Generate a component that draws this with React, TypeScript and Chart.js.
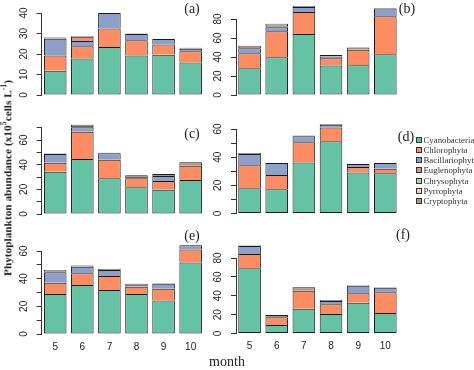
import React, { useEffect, useRef } from 'react';
import { Chart, registerables } from 'chart.js';
Chart.register(...registerables);

const months = ['5', '6', '7', '8', '9', '10'];
const groups = ['Cyanobacteria', 'Chlorophyta', 'Bacillariophyta', 'Euglenophyta', 'Chrysophyta', 'Pyrrophyta', 'Cryptophyta'];
const colors = ['#66c2a5', '#fc8d62', '#8da0cb', '#e9907e', '#b3d98c', '#f3d7b5', '#a89a8a'];

// rows follow `groups`; columns follow `months`
const panelA = [
  [11.8, 17.8, 23.4, 19.3, 19.6, 15.8],
  [7.5, 6.0, 9.1, 7.4, 5.0, 5.6],
  [8.2, 2.6, 7.5, 3.0, 2.7, 1.2],
  [0, 2.0, 0, 0, 0, 0],
  [0, 0, 0, 0, 0, 0],
  [0, 0, 0, 0, 0, 0],
  [0.6, 0.4, 0, 0.3, 0.2, 0.4],
];
const panelB = [
  [28.2, 39.8, 64.1, 31.0, 31.4, 43.0],
  [15.8, 27.2, 23.3, 7.8, 16.2, 39.8],
  [5.3, 4.2, 5.3, 1.5, 0, 8.2],
  [1.2, 1.3, 0, 0, 0, 0],
  [0, 1.2, 0, 0, 0, 0],
  [0, 0, 0, 0, 0, 0],
  [1.3, 1.3, 1.0, 1.7, 2.4, 0.6],
];
const panelC = [
  [34.3, 44.6, 28.9, 21.6, 19.7, 27.6],
  [7.3, 22.2, 15.1, 7.3, 7.1, 11.6],
  [7.0, 3.5, 5.2, 0, 4.0, 0],
  [0, 1.0, 0, 1.2, 0, 0],
  [0, 0, 0, 0, 0, 0],
  [0, 0, 0, 0, 0, 0],
  [0.5, 1.1, 0.4, 1.3, 1.6, 2.7],
];
const panelD = [
  [18.0, 17.3, 36.3, 51.3, 29.2, 28.5],
  [16.2, 10.0, 14.3, 9.8, 3.8, 3.2],
  [8.1, 8.5, 4.3, 1.9, 2.1, 4.1],
  [0, 0, 0, 0, 0, 0],
  [0, 0, 0, 0, 0, 0],
  [0, 0, 0, 0, 0, 0],
  [0.7, 0.3, 0.5, 0.5, 0.3, 0.3],
];
const panelE = [
  [28.9, 35.4, 31.8, 28.9, 24.3, 51.6],
  [8.2, 8.5, 10.1, 5.3, 8.5, 9.4],
  [7.5, 4.8, 4.4, 1.0, 3.6, 3.1],
  [0.8, 0, 0, 0, 0, 0],
  [0, 0, 0, 0, 0, 0],
  [0, 0, 0, 0, 0, 0],
  [0.9, 0.9, 0.7, 1.2, 0.3, 0.3],
];
const panelF = [
  [69.1, 9.0, 26.3, 20.7, 32.7, 21.7],
  [15.2, 8.1, 19.1, 10.2, 9.9, 21.9],
  [8.5, 0, 0, 3.6, 8.1, 5.0],
  [0, 0, 0, 0, 0, 0],
  [0, 0, 0, 0, 0, 0],
  [0, 0, 0, 0, 0, 0],
  [0.5, 2.5, 3.5, 1.0, 0.5, 0.4],
];

const yTitle = 'Phytoplankton abundance (x10';
const xTitle = 'month';

type Panel = {
  tag: string; rows: number[][]; left: number; right: number; top: number; bottom: number;
  max: number; step: number; labelEvery: number; showX: boolean; tagX: number; tagY: number;
};

const W = 474;
const H = 370;
const YW = 30;

const panels: Panel[] = [
  { tag: '(a)', rows: panelA, left: 41.7, right: 204.2, top: 7, bottom: 95, max: 40, step: 10, labelEvery: 10, showX: false, tagX: 192, tagY: 9 },
  { tag: '(b)', rows: panelB, left: 236, right: 398.9, top: 19, bottom: 95, max: 80, step: 20, labelEvery: 20, showX: false, tagX: 407, tagY: 8.5 },
  { tag: '(c)', rows: panelC, left: 41.7, right: 204.2, top: 127.7, bottom: 214, max: 70, step: 10, labelEvery: 20, showX: false, tagX: 192, tagY: 133.5 },
  { tag: '(d)', rows: panelD, left: 236, right: 398.9, top: 129, bottom: 213.5, max: 60, step: 10, labelEvery: 20, showX: false, tagX: 406, tagY: 137 },
  { tag: '(e)', rows: panelE, left: 41.7, right: 204.2, top: 251, bottom: 334, max: 60, step: 10, labelEvery: 20, showX: true, tagX: 192, tagY: 236 },
  { tag: '(f)', rows: panelF, left: 236, right: 398.9, top: 258, bottom: 333.5, max: 80, step: 20, labelEvery: 20, showX: true, tagX: 403, tagY: 235 },
];

const tickFont = { family: "'Liberation Sans Narrow', 'Liberation Sans', Arial, sans-serif", size: 10 };

function PanelChart({ p }: { p: Panel }) {
  const ref = useRef<HTMLCanvasElement | null>(null);
  useEffect(() => {
    if (!ref.current) return;
    const XH = p.showX ? 20 : 0;
    const chart = new Chart(ref.current, {
      type: 'bar',
      data: {
        labels: months,
        datasets: groups.map((g, k) => ({
          label: g,
          data: p.rows[k],
          backgroundColor: colors[k],
          borderColor: '#1a1a1a',
          borderWidth: 1,
          borderSkipped: k === 0 ? false : 'start',
          barPercentage: 1 / 1.2,
          categoryPercentage: 1,
          clip: false,
        })) as any,
      },
      options: {
        animation: false,
        responsive: false,
        devicePixelRatio: 1,
        events: [],
        layout: {
          padding: { left: p.left - YW, right: W - p.right, top: p.top, bottom: H - p.bottom - XH },
        },
        plugins: { legend: { display: false }, tooltip: { enabled: false } },
        scales: {
          x: {
            type: 'category',
            stacked: true,
            grid: { display: false, drawTicks: false },
            border: { display: false },
            ticks: { display: p.showX, padding: 7, font: tickFont, color: '#222', maxRotation: 0, minRotation: 0, autoSkip: false },
            afterFit: (s: any) => { s.height = XH; },
          },
          y: {
            type: 'linear',
            stacked: true,
            min: 0,
            max: p.max,
            grid: { display: true, drawOnChartArea: false, drawTicks: true, tickLength: 5, color: '#333' },
            border: { display: true, color: '#333', width: 1 },
            ticks: {
              stepSize: p.step,
              autoSkip: false,
              minRotation: 90,
              maxRotation: 90,
              crossAlign: 'center',
              padding: 7,
              font: tickFont,
              color: '#222',
              callback: (v: any) => (Number(v) % p.labelEvery === 0 ? String(v) : ''),
            },
            afterFit: (s: any) => { s.width = YW; },
          },
        },
      } as any,
    });
    return () => chart.destroy();
  }, [p]);
  return (
    <canvas ref={ref} width={W} height={H} style={{ position: 'absolute', left: 0, top: 0, width: W, height: H }} />
  );
}

const serif = "'Liberation Serif', 'Times New Roman', serif";
const supStyle = { fontSize: '70%', verticalAlign: 'super', lineHeight: 0 } as const;

export default function App() {
  return (
    <div style={{ position: 'fixed', left: 0, top: 0, width: W, height: H, background: '#fff', overflow: 'hidden' }}>
      {panels.map((p) => (
        <PanelChart key={p.tag} p={p} />
      ))}
      {panels.map((p) => (
        <div key={'t' + p.tag} style={{ position: 'absolute', left: p.tagX, top: p.tagY, transform: 'translate(-50%,-50%)', font: `14px ${serif}`, lineHeight: 1, color: '#222', whiteSpace: 'nowrap' }}>{p.tag}</div>
      ))}
      <div style={{ position: 'absolute', left: 8, top: 178, transform: 'translate(-50%,-50%) rotate(-90deg)', font: `bold 11.3px ${serif}`, lineHeight: 1, color: '#222', whiteSpace: 'nowrap' }}>
        {yTitle}<sup style={supStyle}>5</sup>cells L<sup style={supStyle}>-1</sup>)
      </div>
      <div style={{ position: 'absolute', left: 227, top: 362, transform: 'translate(-50%,-50%)', font: `14px ${serif}`, lineHeight: 1, color: '#222', whiteSpace: 'nowrap' }}>{xTitle}</div>
      {groups.map((g, k) => (
        <div key={g} style={{ position: 'absolute', left: 416, top: 140 + k * 10.15 - 5, height: 10, display: 'flex', alignItems: 'center', whiteSpace: 'nowrap' }}>
          <span style={{ display: 'inline-block', width: 4, height: 4, border: '1px solid #333', background: colors[k], marginRight: 1.5 }} />
          <span style={{ font: `8.8px ${serif}`, lineHeight: '10px', color: '#333' }}>{g}</span>
        </div>
      ))}
    </div>
  );
}
